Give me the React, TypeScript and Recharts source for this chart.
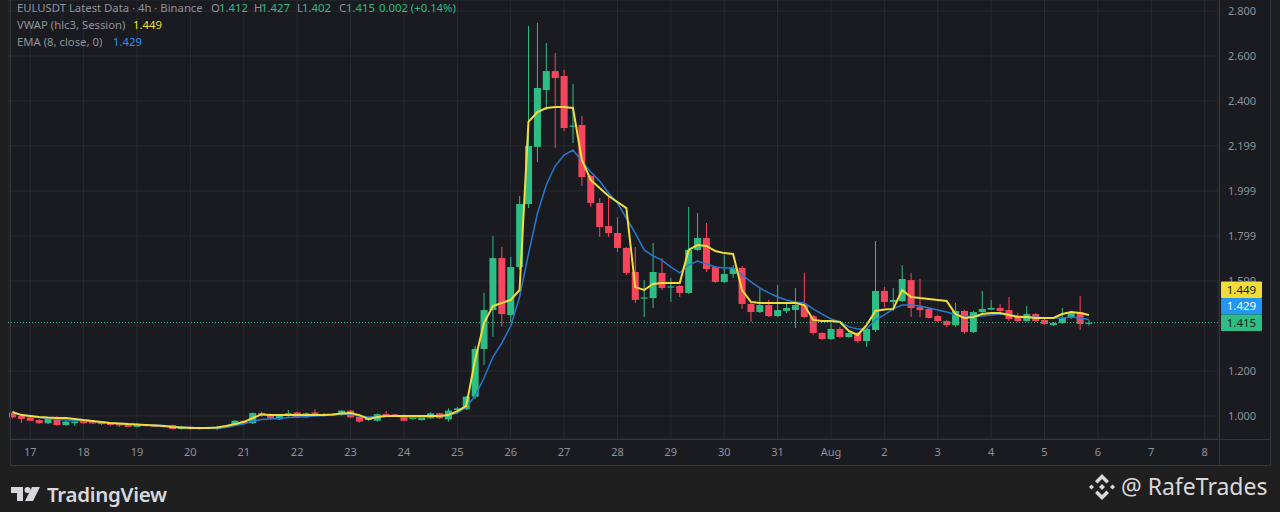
import React from 'react';
import { ComposedChart, Bar, Line, XAxis, YAxis, CartesianGrid, ReferenceLine } from 'recharts';

// 4h candles, EULUSDT, from Jul 16 16:00 onwards: [open, high, low, close]
const candles: [number, number, number, number][] = [
  [1.015, 1.019, 0.990, 0.994], [1.000, 1.004, 0.969, 0.987], [0.994, 1.000, 0.978, 0.979], [0.982, 0.987, 0.964, 0.968],
  [0.968, 0.996, 0.964, 0.990], [0.990, 1.000, 0.956, 0.960], [0.960, 0.982, 0.956, 0.975], [0.968, 0.982, 0.956, 0.975],
  [0.979, 0.982, 0.964, 0.968], [0.973, 0.978, 0.964, 0.967], [0.971, 0.973, 0.960, 0.964], [0.968, 0.973, 0.956, 0.960],
  [0.964, 0.969, 0.951, 0.958], [0.963, 0.969, 0.951, 0.952], [0.952, 0.969, 0.949, 0.964], [0.963, 0.964, 0.953, 0.957],
  [0.960, 0.962, 0.951, 0.953], [0.953, 0.960, 0.949, 0.958], [0.960, 0.962, 0.940, 0.942], [0.942, 0.956, 0.940, 0.952],
  [0.952, 0.956, 0.940, 0.942], [0.947, 0.949, 0.940, 0.942], [0.944, 0.953, 0.942, 0.951], [0.944, 0.956, 0.938, 0.947],
  [0.949, 0.958, 0.947, 0.956], [0.960, 0.982, 0.958, 0.979], [0.979, 0.982, 0.964, 0.968], [0.968, 1.016, 0.964, 1.013],
  [1.013, 1.019, 0.997, 1.004], [1.008, 1.011, 0.987, 0.990], [0.985, 1.009, 0.982, 1.004], [1.004, 1.027, 0.996, 1.012],
  [1.016, 1.019, 0.991, 0.994], [0.994, 1.016, 0.991, 1.012], [1.016, 1.030, 1.002, 1.004], [1.002, 1.013, 0.998, 1.009],
  [1.003, 1.013, 1.000, 1.009], [1.004, 1.027, 1.002, 1.024], [1.024, 1.027, 0.991, 0.994], [0.997, 1.000, 0.971, 0.975],
  [0.982, 0.996, 0.978, 0.990], [0.979, 1.011, 0.976, 1.008], [1.009, 1.022, 0.998, 1.001], [1.007, 1.009, 0.998, 1.000],
  [1.004, 1.007, 0.976, 0.979], [0.987, 0.998, 0.984, 0.994], [0.982, 0.996, 0.980, 0.992], [0.990, 1.016, 0.987, 1.012],
  [1.012, 1.013, 0.987, 0.990], [0.985, 1.034, 0.975, 1.024], [1.027, 1.040, 1.024, 1.034], [1.030, 1.089, 1.027, 1.086],
  [1.086, 1.312, 1.076, 1.298], [1.298, 1.548, 1.227, 1.471], [1.471, 1.800, 1.352, 1.702], [1.702, 1.751, 1.398, 1.453],
  [1.449, 1.707, 1.418, 1.662], [1.662, 1.978, 1.649, 1.942], [1.942, 2.733, 1.924, 2.200], [2.196, 2.747, 2.129, 2.458],
  [2.449, 2.658, 2.360, 2.533], [2.533, 2.613, 2.191, 2.502], [2.511, 2.538, 2.267, 2.280], [2.287, 2.476, 2.213, 2.291],
  [2.293, 2.333, 2.022, 2.062], [2.067, 2.071, 1.929, 1.947], [1.947, 1.969, 1.796, 1.840], [1.844, 1.973, 1.796, 1.813],
  [1.813, 1.884, 1.729, 1.747], [1.747, 1.751, 1.627, 1.636], [1.640, 1.751, 1.502, 1.516], [1.522, 1.604, 1.440, 1.527],
  [1.524, 1.769, 1.480, 1.640], [1.636, 1.702, 1.560, 1.569], [1.571, 1.613, 1.507, 1.576], [1.578, 1.582, 1.529, 1.547],
  [1.547, 1.929, 1.542, 1.738], [1.738, 1.902, 1.733, 1.791], [1.791, 1.858, 1.640, 1.653], [1.662, 1.667, 1.591, 1.596],
  [1.596, 1.716, 1.591, 1.631], [1.631, 1.671, 1.613, 1.658], [1.658, 1.667, 1.476, 1.498], [1.498, 1.502, 1.418, 1.462],
  [1.462, 1.569, 1.458, 1.493], [1.493, 1.516, 1.440, 1.444], [1.444, 1.582, 1.440, 1.471], [1.467, 1.498, 1.458, 1.480],
  [1.471, 1.569, 1.391, 1.493], [1.493, 1.636, 1.436, 1.440], [1.444, 1.449, 1.360, 1.369], [1.369, 1.373, 1.338, 1.342],
  [1.342, 1.413, 1.338, 1.387], [1.387, 1.396, 1.347, 1.351], [1.351, 1.378, 1.347, 1.369], [1.369, 1.373, 1.324, 1.333],
  [1.333, 1.391, 1.307, 1.387], [1.382, 1.778, 1.373, 1.556], [1.556, 1.573, 1.484, 1.507], [1.507, 1.569, 1.467, 1.516],
  [1.511, 1.671, 1.507, 1.609], [1.604, 1.636, 1.440, 1.480], [1.484, 1.609, 1.440, 1.471], [1.476, 1.484, 1.433, 1.436],
  [1.444, 1.449, 1.418, 1.422], [1.422, 1.427, 1.396, 1.404], [1.404, 1.502, 1.396, 1.467], [1.467, 1.471, 1.364, 1.373],
  [1.373, 1.467, 1.369, 1.462], [1.462, 1.556, 1.458, 1.476], [1.473, 1.516, 1.471, 1.480], [1.480, 1.498, 1.462, 1.467],
  [1.471, 1.529, 1.422, 1.431], [1.440, 1.458, 1.418, 1.422], [1.422, 1.489, 1.418, 1.453], [1.453, 1.458, 1.418, 1.422],
  [1.427, 1.431, 1.404, 1.409], [1.404, 1.418, 1.400, 1.413], [1.413, 1.480, 1.409, 1.436], [1.436, 1.467, 1.431, 1.462],
  [1.462, 1.533, 1.382, 1.409], [1.412, 1.427, 1.402, 1.415],
];

const vwap = [
  1.018, 1.004, 1.000, 0.996, 0.993, 0.991, 0.991, 0.987, 0.982, 0.978,
  0.973, 0.969, 0.967, 0.964, 0.962, 0.960, 0.958, 0.956, 0.951, 0.949,
  0.947, 0.947, 0.947, 0.949, 0.956, 0.964, 0.973, 0.991, 1.007, 1.004,
  1.004, 1.004, 1.004, 1.004, 1.004, 1.004, 1.007, 1.011, 1.013, 1.004,
  0.987, 0.996, 1.000, 1.000, 1.000, 1.000, 1.000, 1.000, 1.000, 1.004,
  1.022, 1.044, 1.249, 1.413, 1.489, 1.502, 1.516, 1.560, 2.307, 2.351,
  2.369, 2.373, 2.373, 2.369, 2.138, 2.049, 2.013, 1.978, 1.951, 1.924,
  1.573, 1.560, 1.587, 1.591, 1.591, 1.591, 1.738, 1.760, 1.756, 1.733,
  1.724, 1.720, 1.560, 1.507, 1.502, 1.502, 1.502, 1.502, 1.502, 1.493,
  1.427, 1.422, 1.422, 1.418, 1.378, 1.360, 1.404, 1.467, 1.473, 1.476,
  1.560, 1.529, 1.524, 1.520, 1.516, 1.511, 1.453, 1.436, 1.440, 1.453,
  1.458, 1.458, 1.449, 1.440, 1.440, 1.436, 1.436, 1.436, 1.453, 1.462,
  1.458, 1.449,
];

const ema = [
  1.013, 1.007, 1.000, 0.993, 0.989, 0.984, 0.982, 0.980, 0.978, 0.976,
  0.973, 0.969, 0.967, 0.964, 0.962, 0.960, 0.960, 0.958, 0.953, 0.951,
  0.949, 0.947, 0.947, 0.947, 0.949, 0.958, 0.964, 0.978, 0.984, 0.987,
  0.989, 0.993, 0.996, 0.998, 1.000, 1.002, 1.004, 1.009, 1.007, 1.000,
  0.996, 0.998, 1.000, 1.000, 0.996, 0.996, 0.993, 0.998, 0.998, 1.004,
  1.013, 1.040, 1.089, 1.169, 1.262, 1.324, 1.400, 1.529, 1.720, 1.900,
  2.027, 2.111, 2.160, 2.182, 2.133, 2.084, 2.044, 1.991, 1.947, 1.880,
  1.813, 1.738, 1.711, 1.693, 1.662, 1.636, 1.671, 1.689, 1.676, 1.662,
  1.658, 1.658, 1.627, 1.596, 1.569, 1.547, 1.529, 1.516, 1.507, 1.502,
  1.476, 1.453, 1.431, 1.418, 1.396, 1.387, 1.387, 1.427, 1.449, 1.476,
  1.493, 1.493, 1.489, 1.480, 1.471, 1.462, 1.449, 1.444, 1.440, 1.444,
  1.449, 1.453, 1.449, 1.444, 1.440, 1.440, 1.436, 1.436, 1.436, 1.440,
  1.436, 1.429,
];

const dayLabels = ['17', '18', '19', '20', '21', '22', '23', '24', '25', '26', '27', '28', '29', '30', '31', 'Aug', '2', '3', '4', '5', '6', '7', '8'];
const priceTicks = [1.0, 1.2, 1.4, 1.6, 1.8, 2.0, 2.2, 2.4, 2.6, 2.8];
const priceLabels = ['1.000', '1.200', '1.400', '1.599', '1.799', '1.999', '2.199', '2.400', '2.600', '2.800'];

const lastClose = 1.415;
const lastVwap = 1.449;
const lastEma = 1.429;

const SLOTS = 136; // visible 4h slots incl. empty space on the right
const FIRST_DAY_SLOT = 2; // Jul 17 00:00

const GREEN = '#2ebd85';
const RED = '#f6465d';
const YELLOW = '#f2dc3a';
const BLUE = '#2679cf';
const GRID = '#272a31';
const BORDER = '#34373f';
const TEXT = '#8f929b';
const FONT = '"Noto Sans", sans-serif';

const rows = Array.from({ length: SLOTS }, (_, i) => {
  const c = candles[i];
  if (!c) return { slot: i };
  return { slot: i, open: c[0], high: c[1], low: c[2], close: c[3], range: [c[2], c[1]], vwap: vwap[i], ema: ema[i] };
});

const dayTicks = dayLabels.map((_, i) => FIRST_DAY_SLOT + i * 6);

const Candle = (props: any) => {
  const { x, y, width, height, payload } = props;
  if (!payload || payload.open == null) return null;
  const { open, high, low, close } = payload;
  const top = Math.min(y, y + height);
  const h = Math.abs(height);
  const ppu = h / (high - low || 1);
  const yOf = (v: number) => top + (high - v) * ppu;
  const bTop = yOf(Math.max(open, close));
  const bBot = yOf(Math.min(open, close));
  const color = close >= open ? GREEN : RED;
  const cx = x + width / 2;
  return (
    <g>
      <line x1={cx} x2={cx} y1={top} y2={top + h} stroke={color} strokeWidth={1} />
      <rect x={x} y={bTop} width={width} height={Math.max(1.2, bBot - bTop)} fill={color} />
    </g>
  );
};

const Badges = (props: any) => {
  const vb = props.viewBox || {};
  const bx = vb.x + vb.width + 3;
  const cy = vb.y;
  const items = [
    { v: lastVwap, bg: YELLOW, fg: '#1b1b1b', off: -33 },
    { v: lastEma, bg: '#2196f3', fg: '#ffffff', off: -16.5 },
    { v: lastClose, bg: GREEN, fg: '#1b1b1b', off: 0 },
  ];
  return (
    <g>
      {items.map((it) => (
        <g key={it.v}>
          <rect x={bx} y={cy + it.off - 8.25} width={41} height={16.5} fill={it.bg} rx={1} />
          <text x={bx + 20.5} y={cy + it.off + 4} textAnchor="middle" fontSize={11.5} fontFamily={FONT} fill={it.fg}>
            {it.v.toFixed(3)}
          </text>
        </g>
      ))}
    </g>
  );
};

const line = (left: number, top: number, w: number, h: number) => (
  <div style={{ position: 'absolute', left, top, width: w, height: h, background: BORDER }} />
);

const TvLogo = () => (
  <svg width={30} height={16} viewBox="0 0 30 16" style={{ position: 'absolute', left: 11, top: 487 }}>
    <path d="M0 0 H12 V14 H6 V6 H0 Z" fill="#d6d8de" />
    <circle cx={16.5} cy={3} r={3} fill="#d6d8de" />
    <path d="M21 0 H29 L22 14 H14 Z" fill="#d6d8de" />
  </svg>
);

const BinanceMark = () => (
  <svg width={30} height={30} viewBox="-15 -15 30 30" style={{ position: 'absolute', left: 1087, top: 472 }}>
    <g fill="#d9d9d9">
      <path d="M0 -13 L7 -6 L4.5 -3.5 L0 -8 L-4.5 -3.5 L-7 -6 Z" />
      <path d="M0 13 L7 6 L4.5 3.5 L0 8 L-4.5 3.5 L-7 6 Z" />
      <path d="M-13 0 L-10.5 -2.5 L-8 0 L-10.5 2.5 Z" />
      <path d="M13 0 L10.5 -2.5 L8 0 L10.5 2.5 Z" />
      <path d="M0 -3 L3 0 L0 3 L-3 0 Z" />
    </g>
  </svg>
);

const hdr = (left: number, top: number, text: string, color: string) => (
  <div style={{ position: 'absolute', left, top, fontSize: 11.3, lineHeight: '14px', color, fontFamily: FONT, whiteSpace: 'nowrap' }}>
    {text}
  </div>
);

export default function App() {
  return (
    <div style={{ position: 'fixed', left: 0, top: 0, width: 1280, height: 512, background: '#1f1f20', overflow: 'hidden' }}>
      <div style={{ position: 'absolute', left: 10, top: 0, width: 1260, height: 465, background: '#1a1b20' }} />
      <div style={{ position: 'absolute', left: 8, top: 0 }}>
        <ComposedChart width={1262} height={465} data={rows} margin={{ top: 0, right: 0, bottom: 0, left: 0 }}>
          <CartesianGrid stroke={GRID} strokeWidth={1} />
          <XAxis
            dataKey="slot"
            type="category"
            ticks={dayTicks}
            interval={0}
            tickFormatter={(v: number) => dayLabels[(v - FIRST_DAY_SLOT) / 6]}
            axisLine={false}
            tickLine={false}
            tickSize={6}
            tickMargin={3}
            height={26}
            tick={{ fill: TEXT, fontSize: 11, fontFamily: FONT }}
          />
          <YAxis
            orientation="right"
            type="number"
            domain={[0.8978, 2.8489]}
            allowDataOverflow
            ticks={priceTicks}
            interval={0}
            tickFormatter={(v: number) => priceLabels[priceTicks.indexOf(v)]}
            axisLine={false}
            tickLine={false}
            tickSize={6}
            tickMargin={4}
            width={52}
            tick={{ fill: TEXT, fontSize: 11, fontFamily: FONT }}
          />
          <Bar dataKey="range" barSize={7} shape={<Candle />} isAnimationActive={false} />
          <Line dataKey="ema" type="linear" stroke={BLUE} strokeWidth={1.5} dot={false} activeDot={false} isAnimationActive={false} />
          <Line dataKey="vwap" type="linear" stroke={YELLOW} strokeWidth={2} dot={false} activeDot={false} isAnimationActive={false} />
          <ReferenceLine
            y={lastClose}
            stroke={GREEN}
            strokeDasharray="1 2"
            strokeWidth={1}
            zIndex={3000}
            label={(p: any) => <Badges {...p} />}
          />
        </ComposedChart>
      </div>
      {line(10, 0, 1, 465)}
      {line(1219, 0, 1, 465)}
      {line(1270, 0, 1, 465)}
      {line(10, 439, 1261, 1)}
      {line(10, 465, 1261, 1)}

      {hdr(17, 1, 'EULUSDT Latest Data · 4h · Binance', TEXT)}
      {hdr(211, 1, 'O', TEXT)}
      {hdr(219, 1, '1.412', GREEN)}
      {hdr(254, 1, 'H', TEXT)}
      {hdr(261, 1, '1.427', GREEN)}
      {hdr(297, 1, 'L', TEXT)}
      {hdr(302, 1, '1.402', GREEN)}
      {hdr(339, 1, 'C', TEXT)}
      {hdr(346, 1, '1.415', GREEN)}
      {hdr(379, 1, '0.002 (+0.14%)', GREEN)}
      {hdr(17, 18, 'VWAP (hlc3, Session)', TEXT)}
      {hdr(133, 18, '1.449', YELLOW)}
      {hdr(17, 35, 'EMA (8, close, 0)', TEXT)}
      {hdr(113, 35, '1.429', '#2196f3')}

      <TvLogo />
      <div style={{ position: 'absolute', left: 47, top: 480, fontSize: 20.5, fontWeight: 600, color: '#d6d8de', fontFamily: FONT, letterSpacing: -0.3 }}>
        TradingView
      </div>
      <BinanceMark />
      <div style={{ position: 'absolute', left: 1121, top: 470, fontSize: 23, color: '#d9d9d9', fontFamily: FONT, whiteSpace: 'nowrap' }}>
        @ RafeTrades
      </div>
    </div>
  );
}
